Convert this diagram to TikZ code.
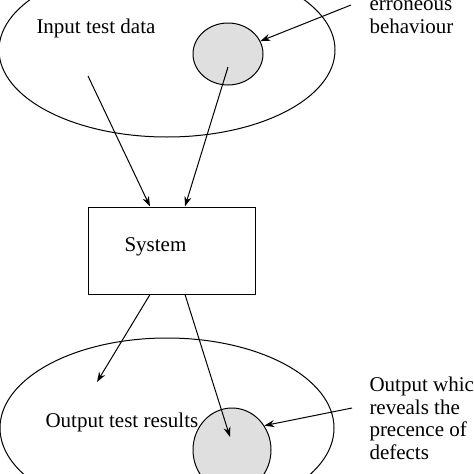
\documentclass[tikz,border=0pt]{standalone}
\usepackage{fontspec}
\setmainfont{Liberation Serif}
\usetikzlibrary{shapes.geometric, arrows.meta, positioning}

\begin{document}
\begin{tikzpicture}[x=1pt, y=-1pt,
  font=\fontsize{21}{22.5}\selectfont,
  line width=1pt,
  >={Stealth[length=10pt,width=7pt]}]
% Setup the styles
\tikzset{domain style/.style={ellipse, draw, inner sep=0pt},
  sub style/.style={ellipse, draw, fill=gray!25, inner sep=0pt},
  box style/.style={rectangle, draw, inner sep=0pt,
    minimum width=167pt, minimum height=87pt},
  note style/.style={anchor=base west, inner sep=0pt, align=left}}
\useasboundingbox (0,0) rectangle (474,474);

% Draw the domains
\node[domain style, minimum width=336pt, minimum height=174pt] at (167,50)  (inset)  {};
\node[sub style, minimum width=70pt,  minimum height=62pt]     at (228,54)  (errcirc) {};
\node[domain style, minimum width=334pt, minimum height=180pt] at (167,428) (outset) {};
\node[sub style, minimum width=78pt,  minimum height=84pt]     at (232,450) (defcirc) {};

% Draw the system
\node[box style] at (171.5,250.5) (sys) {};
\node[note style] at (124,251) (systxt) {System};

% Labels (base = last line)
\node[note style] at (36,33)   (intxt)  {Input test data};
\node[note style] at (45,427)  (outtxt) {Output test results};
\node[note style] at (369,33)  (errtxt) {erroneous\\behaviour};
\node[note style] at (369,459) (deftxt) {Output whic\\reveals the\\precence of\\defects};

% Free ends of the arrows
\coordinate (instart) at (88,76);
\coordinate (errnote) at (351,5);
\coordinate (outtip)  at (97,382);
\coordinate (deftip)  at (230,437);
\coordinate (defnote) at (352,408);

% Connect with arrows
\draw[->] (instart) -- ([xshift=-21.5pt]sys.north);
\draw[->] ([yshift=-13pt]errcirc.center) -- ([xshift=13.5pt]sys.north);
\draw[->] ([xshift=-21.5pt]sys.south) -- (outtip);
\draw[->] ([xshift=13.5pt]sys.south) -- (deftip);
\draw[->] (errnote) -- (errcirc);
\draw[->] (defnote) -- (defcirc.37);
\end{tikzpicture}
\end{document}
